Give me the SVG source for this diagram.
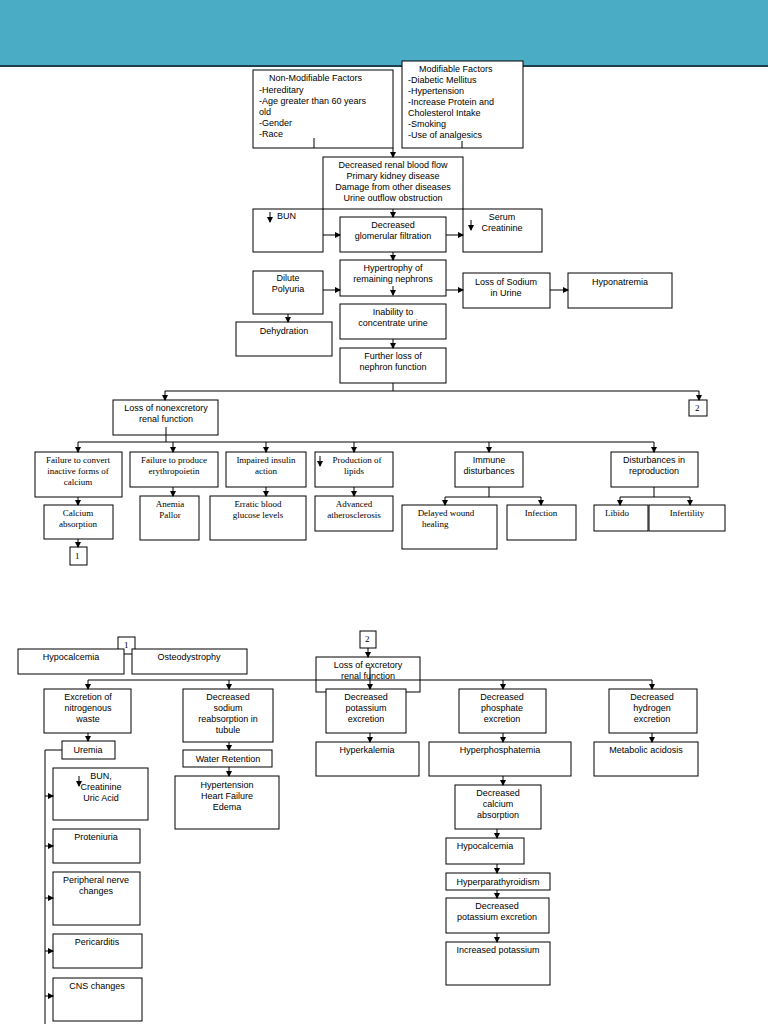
<svg xmlns="http://www.w3.org/2000/svg" width="768" height="1024" viewBox="0 0 768 1024">
<defs>
<marker id="ah" markerWidth="6" markerHeight="6" refX="5" refY="3" orient="auto" markerUnits="userSpaceOnUse"><path d="M0,0 L6,3 L0,6 z" fill="#000"/></marker>
<style>
rect.b{fill:#fff;stroke:#000;stroke-width:1}
text{font-family:"Liberation Sans",Arial,sans-serif;font-size:9px;fill:#000}
text.s{font-family:"Liberation Serif","Times New Roman",serif;font-size:9px}
.c line,.c polyline{stroke:#000;stroke-width:1;fill:none}
.a{marker-end:url(#ah)}
</style>
</defs>
<rect x="0" y="0" width="768" height="66" fill="#4BACC6"/>
<line x1="0" y1="66" x2="768" y2="66" stroke="#1f3f4f" stroke-width="2"/>

<g id="nonmod"><rect class="b" x="253" y="70" width="140" height="78"/><text x="269" y="81">Non-Modifiable Factors</text><text x="259" y="93">-Hereditary</text><text x="259" y="104">-Age greater than 60 years</text><text x="259" y="115">old</text><text x="259" y="126">-Gender</text><text x="259" y="137">-Race</text></g>
<g id="mod"><rect class="b" x="402" y="61" width="121" height="87"/><text x="419" y="72">Modifiable Factors</text><text x="408" y="83">-Diabetic Mellitus</text><text x="408" y="94">-Hypertension</text><text x="408" y="105">-Increase Protein and</text><text x="408" y="116">Cholesterol Intake</text><text x="408" y="127">-Smoking</text><text x="408" y="138">-Use of analgesics</text></g>
<g id="causes"><rect class="b" x="323" y="157" width="140" height="52"/><text text-anchor="middle" x="393" y="168">Decreased renal blood flow</text><text text-anchor="middle" x="393" y="179">Primary kidney disease</text><text text-anchor="middle" x="393" y="190">Damage from other diseases</text><text text-anchor="middle" x="393" y="201">Urine outflow obstruction</text></g>
<g id="bun"><rect class="b" x="253" y="209" width="70" height="43"/><text x="277" y="219">BUN</text></g>
<g id="gfr"><rect class="b" x="340" y="217" width="106" height="35"/><text text-anchor="middle" x="393" y="228">Decreased</text><text text-anchor="middle" x="393" y="239">glomerular filtration</text></g>
<g id="creat"><rect class="b" x="463" y="209" width="79" height="43"/><text text-anchor="middle" x="502" y="220">Serum</text><text text-anchor="middle" x="502" y="231">Creatinine</text></g>
<g id="dilute"><rect class="b" x="253" y="271" width="70" height="43"/><text text-anchor="middle" x="288" y="281">Dilute</text><text text-anchor="middle" x="288" y="292">Polyuria</text></g>
<g id="hyper"><rect class="b" x="340" y="260" width="106" height="36"/><text text-anchor="middle" x="393" y="271">Hypertrophy of</text><text text-anchor="middle" x="393" y="282">remaining nephrons</text></g>
<g id="sodium"><rect class="b" x="463" y="273" width="87" height="35"/><text text-anchor="middle" x="506" y="285">Loss of Sodium</text><text text-anchor="middle" x="506" y="296">in Urine</text></g>
<g id="hypona"><rect class="b" x="568" y="273" width="104" height="35"/><text text-anchor="middle" x="620" y="285">Hyponatremia</text></g>
<g id="dehyd"><rect class="b" x="236" y="322" width="96" height="34"/><text text-anchor="middle" x="284" y="334">Dehydration</text></g>
<g id="inab"><rect class="b" x="340" y="304" width="106" height="35"/><text text-anchor="middle" x="393" y="315">Inability to</text><text text-anchor="middle" x="393" y="326">concentrate urine</text></g>
<g id="further"><rect class="b" x="340" y="348" width="106" height="35"/><text text-anchor="middle" x="393" y="359">Further loss of</text><text text-anchor="middle" x="393" y="370">nephron function</text></g>
<g id="nonexc"><rect class="b" x="113" y="400" width="105" height="35"/><text text-anchor="middle" x="166" y="411">Loss of nonexcretory</text><text text-anchor="middle" x="166" y="422">renal function</text></g>
<g id="ref2a"><rect class="b" x="689" y="400" width="18" height="16"/><text class="s" x="695" y="411" font-size="7">2</text></g>

<g id="fconv"><rect class="b" x="35" y="452" width="87" height="45"/><text class="s" text-anchor="middle" x="78" y="463">Failure to convert</text><text class="s" text-anchor="middle" x="78" y="474">inactive forms of</text><text class="s" text-anchor="middle" x="78" y="485">calcium</text></g>
<g id="calabs"><rect class="b" x="44" y="505" width="69" height="34"/><text class="s" text-anchor="middle" x="78" y="516">Calcium</text><text class="s" text-anchor="middle" x="78" y="527">absorption</text></g>
<g id="ref1a"><rect class="b" x="70" y="547" width="17" height="18"/><text class="s" x="75" y="559">1</text></g>
<g id="fprod"><rect class="b" x="130" y="452" width="88" height="35"/><text class="s" text-anchor="middle" x="174" y="463">Failure to produce</text><text class="s" text-anchor="middle" x="174" y="474">erythropoietin</text></g>
<g id="anemia"><rect class="b" x="140" y="496" width="59" height="44"/><text class="s" text-anchor="middle" x="170" y="507">Anemia</text><text class="s" text-anchor="middle" x="170" y="518">Pallor</text></g>
<g id="insulin"><rect class="b" x="226" y="452" width="80" height="35"/><text class="s" text-anchor="middle" x="266" y="463">Impaired insulin</text><text class="s" text-anchor="middle" x="266" y="474">action</text></g>
<g id="erratic"><rect class="b" x="210" y="496" width="96" height="44"/><text class="s" text-anchor="middle" x="258" y="507">Erratic blood</text><text class="s" text-anchor="middle" x="258" y="518">glucose levels</text></g>
<g id="lipids"><rect class="b" x="315" y="452" width="78" height="35"/><text class="s" text-anchor="middle" x="357" y="463">Production of</text><text class="s" text-anchor="middle" x="354" y="474">lipids</text></g>
<g id="athero"><rect class="b" x="315" y="496" width="78" height="35"/><text class="s" text-anchor="middle" x="354" y="507">Advanced</text><text class="s" text-anchor="middle" x="354" y="518">atherosclerosis</text></g>
<g id="immune"><rect class="b" x="455" y="452" width="68" height="35"/><text text-anchor="middle" x="489" y="463">Immune</text><text text-anchor="middle" x="489" y="474">disturbances</text></g>
<g id="wound"><rect class="b" x="402" y="505" width="95" height="44"/><text class="s" text-anchor="middle" x="446" y="516">Delayed wound</text><text class="s" x="422" y="527">healing</text></g>
<g id="infection"><rect class="b" x="507" y="505" width="69" height="35"/><text class="s" text-anchor="middle" x="541" y="516">Infection</text></g>
<g id="repro"><rect class="b" x="611" y="452" width="87" height="35"/><text text-anchor="middle" x="654" y="463">Disturbances in</text><text text-anchor="middle" x="654" y="474">reproduction</text></g>
<g id="libido"><rect class="b" x="594" y="505" width="54" height="26"/><text class="s" text-anchor="middle" x="617" y="516">Libido</text></g>
<g id="infert"><rect class="b" x="649" y="505" width="76" height="26"/><text class="s" text-anchor="middle" x="687" y="516">Infertility</text></g>

<g id="ref1b"><rect class="b" x="118" y="637" width="17" height="17"/><text class="s" x="124" y="648" font-size="7">1</text></g>
<g id="hypocal1"><rect class="b" x="18" y="649" width="106" height="25"/><text x="71" y="660" text-anchor="middle">Hypocalcemia</text></g>
<g id="osteo"><rect class="b" x="132" y="649" width="115" height="25"/><text x="189" y="660" text-anchor="middle">Osteodystrophy</text></g>
<g id="ref2b"><rect class="b" x="360" y="631" width="16" height="17"/><text class="s" x="365" y="642" font-size="7">2</text></g>
<g id="excr"><rect class="b" x="316" y="657" width="104" height="35"/><text x="368" y="668" text-anchor="middle">Loss of excretory</text><text x="368" y="679" text-anchor="middle">renal function</text></g>

<g id="nitro"><rect class="b" x="44" y="689" width="87" height="44"/><text x="88" y="700" text-anchor="middle">Excretion of</text><text x="88" y="711" text-anchor="middle">nitrogenous</text><text x="88" y="722" text-anchor="middle">waste</text></g>
<g id="nareab"><rect class="b" x="183" y="689" width="90" height="53"/><text x="228" y="700" text-anchor="middle">Decreased</text><text x="228" y="711" text-anchor="middle">sodium</text><text x="228" y="722" text-anchor="middle">reabsorption in</text><text x="228" y="733" text-anchor="middle">tubule</text></g>
<g id="kexc"><rect class="b" x="326" y="689" width="80" height="44"/><text x="366" y="700" text-anchor="middle">Decreased</text><text x="366" y="711" text-anchor="middle">potassium</text><text x="366" y="722" text-anchor="middle">excretion</text></g>
<g id="pexc"><rect class="b" x="459" y="689" width="87" height="44"/><text x="502" y="700" text-anchor="middle">Decreased</text><text x="502" y="711" text-anchor="middle">phosphate</text><text x="502" y="722" text-anchor="middle">excretion</text></g>
<g id="hexc"><rect class="b" x="609" y="689" width="88" height="44"/><text x="652" y="700" text-anchor="middle">Decreased</text><text x="652" y="711" text-anchor="middle">hydrogen</text><text x="652" y="722" text-anchor="middle">excretion</text></g>
<g id="uremia"><rect class="b" x="62" y="741" width="53" height="18"/><text x="88" y="753" text-anchor="middle">Uremia</text></g>
<g id="water"><rect class="b" x="183" y="750" width="89" height="17"/><text x="228" y="762" text-anchor="middle">Water Retention</text></g>
<g id="htn"><rect class="b" x="175" y="776" width="104" height="53"/><text x="227" y="788" text-anchor="middle">Hypertension</text><text x="227" y="799" text-anchor="middle">Heart Failure</text><text x="227" y="810" text-anchor="middle">Edema</text></g>
<g id="hyperk"><rect class="b" x="316" y="742" width="103" height="34"/><text x="367" y="753" text-anchor="middle">Hyperkalemia</text></g>
<g id="hyperp"><rect class="b" x="429" y="742" width="142" height="34"/><text x="500" y="753" text-anchor="middle">Hyperphosphatemia</text></g>
<g id="acid"><rect class="b" x="594" y="742" width="104" height="34"/><text x="646" y="753" text-anchor="middle">Metabolic acidosis</text></g>
<g id="buncr"><rect class="b" x="53" y="768" width="95" height="52"/><text x="101" y="779" text-anchor="middle">BUN,</text><text x="101" y="790" text-anchor="middle">Creatinine</text><text x="101" y="801" text-anchor="middle">Uric Acid</text></g>
<g id="protein"><rect class="b" x="53" y="829" width="87" height="34"/><text x="96" y="840" text-anchor="middle">Proteniuria</text></g>
<g id="nerve"><rect class="b" x="53" y="872" width="87" height="53"/><text x="96" y="883" text-anchor="middle">Peripheral nerve</text><text x="96" y="894" text-anchor="middle">changes</text></g>
<g id="peri"><rect class="b" x="53" y="934" width="89" height="34"/><text x="97" y="945" text-anchor="middle">Pericarditis</text></g>
<g id="cns"><rect class="b" x="53" y="978" width="89" height="43"/><text x="97" y="989" text-anchor="middle">CNS changes</text></g>
<g id="deccal"><rect class="b" x="455" y="785" width="86" height="44"/><text x="498" y="796" text-anchor="middle">Decreased</text><text x="498" y="807" text-anchor="middle">calcium</text><text x="498" y="818" text-anchor="middle">absorption</text></g>
<g id="hypocal2"><rect class="b" x="446" y="838" width="78" height="26"/><text x="485" y="849" text-anchor="middle">Hypocalcemia</text></g>
<g id="hpth"><rect class="b" x="446" y="873" width="104" height="17"/><text x="498" y="885" text-anchor="middle">Hyperparathyroidism</text></g>
<g id="deck"><rect class="b" x="446" y="898" width="103" height="35"/><text x="497" y="909" text-anchor="middle">Decreased</text><text x="497" y="920" text-anchor="middle">potassium excretion</text></g>
<g id="inck"><rect class="b" x="446" y="942" width="104" height="43"/><text x="498" y="953" text-anchor="middle">Increased potassium</text></g>

<g class="c" id="connectors">
<line x1="314" y1="138" x2="314" y2="148"/><line x1="462" y1="141" x2="462" y2="148"/>
<line class="a" x1="393" y1="148" x2="393" y2="157"/>
<line class="a" x1="393" y1="209" x2="393" y2="217"/>
<line class="a" x1="323" y1="235" x2="340" y2="235"/><line class="a" x1="446" y1="235" x2="463" y2="235"/>
<line class="a" x1="393" y1="252" x2="393" y2="260"/>
<line class="a" x1="323" y1="290" x2="340" y2="290"/><line class="a" x1="446" y1="290" x2="463" y2="290"/><line class="a" x1="550" y1="290" x2="568" y2="290"/>
<line class="a" x1="393" y1="286" x2="393" y2="295"/>
<line class="a" x1="393" y1="339" x2="393" y2="348"/>
<line class="a" x1="288" y1="314" x2="288" y2="322"/>
<line class="a" x1="270" y1="212" x2="270" y2="222"/><line class="a" x1="471" y1="220" x2="471" y2="230"/>
<line x1="393" y1="383" x2="393" y2="391"/><line x1="165" y1="391" x2="699" y2="391"/>
<line class="a" x1="165" y1="391" x2="165" y2="400"/><line class="a" x1="699" y1="391" x2="699" y2="400"/>
<line x1="166" y1="427" x2="166" y2="442"/><line x1="78" y1="442" x2="654" y2="442"/>
<line class="a" x1="78" y1="442" x2="78" y2="452"/><line class="a" x1="173" y1="442" x2="173" y2="452"/><line class="a" x1="266" y1="442" x2="266" y2="452"/><line class="a" x1="354" y1="442" x2="354" y2="452"/><line class="a" x1="489" y1="442" x2="489" y2="452"/><line class="a" x1="654" y1="442" x2="654" y2="452"/>
<line class="a" x1="78" y1="497" x2="78" y2="505"/><line class="a" x1="78" y1="539" x2="78" y2="547"/>
<line class="a" x1="173" y1="487" x2="173" y2="496"/><line class="a" x1="266" y1="487" x2="266" y2="496"/><line class="a" x1="354" y1="487" x2="354" y2="496"/>
<line class="a" x1="320" y1="456" x2="320" y2="466"/>
<line x1="489" y1="487" x2="489" y2="497"/><line x1="445" y1="497" x2="541" y2="497"/><line class="a" x1="445" y1="497" x2="445" y2="505"/><line class="a" x1="541" y1="497" x2="541" y2="505"/>
<line x1="654" y1="487" x2="654" y2="497"/><line x1="620" y1="497" x2="690" y2="497"/><line class="a" x1="620" y1="497" x2="620" y2="505"/><line class="a" x1="690" y1="497" x2="690" y2="505"/>
<line class="a" x1="368" y1="648" x2="368" y2="657"/>
<line x1="370" y1="667" x2="370" y2="680"/>
<line x1="88" y1="680" x2="652" y2="680"/>
<line class="a" x1="88" y1="680" x2="88" y2="689"/><line class="a" x1="229" y1="680" x2="229" y2="689"/><line class="a" x1="370" y1="680" x2="370" y2="689"/><line class="a" x1="503" y1="680" x2="503" y2="689"/><line class="a" x1="652" y1="680" x2="652" y2="689"/>
<line class="a" x1="88" y1="733" x2="88" y2="741"/>
<polyline points="62,750 45,750 45,1024"/>
<line class="a" x1="45" y1="796" x2="53" y2="796"/><line class="a" x1="45" y1="846" x2="53" y2="846"/><line class="a" x1="45" y1="898" x2="53" y2="898"/><line class="a" x1="45" y1="951" x2="53" y2="951"/><line class="a" x1="45" y1="996" x2="53" y2="996"/>
<line class="a" x1="79" y1="776" x2="79" y2="786"/>
<line class="a" x1="229" y1="742" x2="229" y2="750"/><line class="a" x1="229" y1="767" x2="229" y2="776"/>
<line class="a" x1="370" y1="733" x2="370" y2="742"/><line class="a" x1="503" y1="733" x2="503" y2="742"/><line class="a" x1="652" y1="733" x2="652" y2="742"/>
<line class="a" x1="503" y1="776" x2="503" y2="785"/>
<line class="a" x1="497" y1="829" x2="497" y2="838"/><line class="a" x1="497" y1="864" x2="497" y2="873"/><line class="a" x1="497" y1="890" x2="497" y2="898"/><line class="a" x1="497" y1="933" x2="497" y2="942"/>
</g>
</svg>
